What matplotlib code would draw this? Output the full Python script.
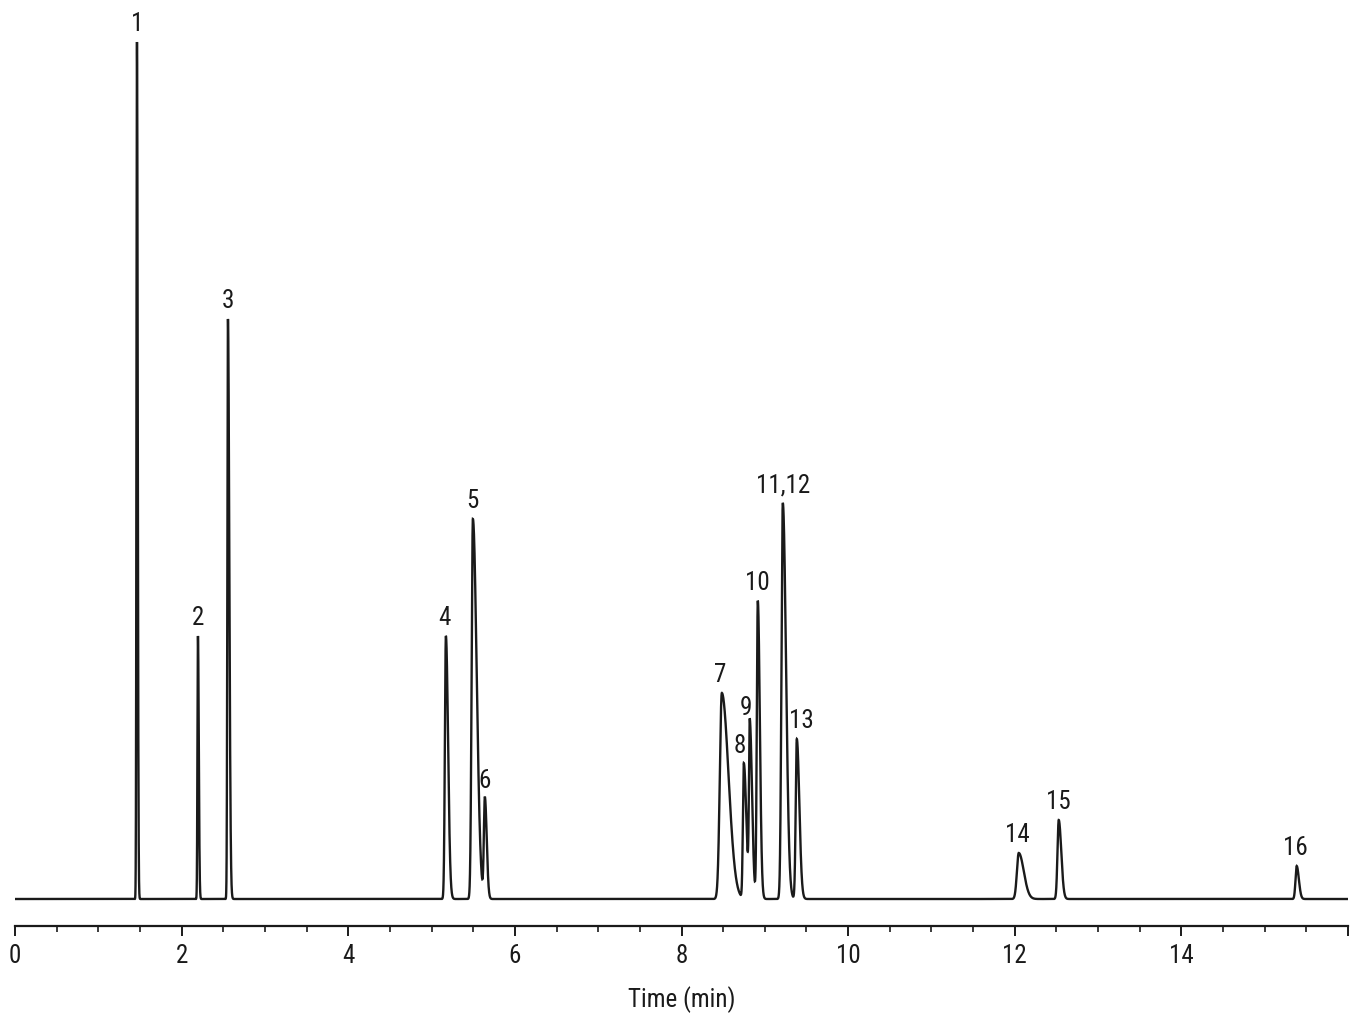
import numpy as np
import matplotlib
matplotlib.use("Agg")
import matplotlib.pyplot as plt
from matplotlib.ticker import MultipleLocator, FixedLocator
from matplotlib import font_manager

# ---- data ----
peak_labels = ["1", "2", "3", "4", "5", "6", "7", "8", "9", "10", "11,12", "13", "14", "15", "16"]
retention_min = [1.464, 2.196, 2.556, 5.172, 5.496, 5.640, 8.484, 8.748, 8.820, 8.916, 9.216, 9.384, 12.048, 12.528, 15.384]
peak_height = [857, 263, 580, 263, 380, 100, 206, 135, 173, 298, 396, 160, 46, 79, 33]
sigma_left = [0.006, 0.006, 0.007, 0.012, 0.015, 0.012, 0.024, 0.011, 0.010, 0.012, 0.016, 0.013, 0.022, 0.015, 0.014]
sigma_right = [0.009, 0.010, 0.016, 0.026, 0.045, 0.022, 0.080, 0.030, 0.027, 0.024, 0.038, 0.030, 0.060, 0.030, 0.026]
label_dx_pt = [0, 0, 0, -1, 0, 0, -1, -3, -3, 0, 0, 3, -1, 0, -1]

x_ticks_major = [0, 2, 4, 6, 8, 10, 12, 14, 16]
x_tick_labels = ["0", "2", "4", "6", "8", "10", "12", "14", ""]
x_label = "Time (min)"

# ---- build trace ----
t = np.linspace(0, 16, 32001)
signal = np.zeros_like(t)
for rt, h, sl, sr in zip(retention_min, peak_height, sigma_left, sigma_right):
    s = np.where(t < rt, sl, sr)
    signal += h * np.exp(-0.5 * ((t - rt) / s) ** 2)

available = {f.name for f in font_manager.fontManager.ttflist}
fams = [f for f in ['Roboto Condensed', 'Liberation Sans Narrow', 'Roboto', 'DejaVu Sans'] if f in available]
plt.rcParams['font.family'] = fams
plt.rcParams['font.stretch'] = 'condensed'

W, H = 1370, 1023
fig = plt.figure(figsize=(W / 100, H / 100), dpi=100)
ax_left, ax_right = 15 / W, 1348 / W
ax_bottom = (H - 926) / H
ax_top = 1.0
ax = fig.add_axes([ax_left, ax_bottom, ax_right - ax_left, ax_top - ax_bottom])

ax.plot(t, signal, color="#1a1a1a", lw=1.7, solid_joinstyle="miter")
ax.set_xlim(0, 16)
ax.set_ylim(-27, 899)

for sp in ["left", "right", "top"]:
    ax.spines[sp].set_visible(False)
ax.spines["bottom"].set_linewidth(1.6)
ax.spines["bottom"].set_color("#1a1a1a")
ax.set_yticks([])
ax.xaxis.set_major_locator(FixedLocator(x_ticks_major))
ax.set_xticklabels(x_tick_labels)
ax.xaxis.set_minor_locator(MultipleLocator(0.5))
ax.tick_params(axis="x", which="major", direction="out", length=7, width=1.4,
               color="#1a1a1a", labelsize=18, pad=6, labelcolor="#1a1a1a")
ax.tick_params(axis="x", which="minor", direction="out", length=4, width=1.2, color="#1a1a1a")
ax.set_xlabel(x_label, fontsize=18, color="#1a1a1a", labelpad=13)

for lab, rt, h, dx in zip(peak_labels, retention_min, peak_height, label_dx_pt):
    ax.annotate(lab, xy=(rt, h), xytext=(dx, 4), textcoords="offset points",
                ha="center", va="bottom", fontsize=18, color="#1a1a1a")

fig.savefig("out.png", dpi=100)
